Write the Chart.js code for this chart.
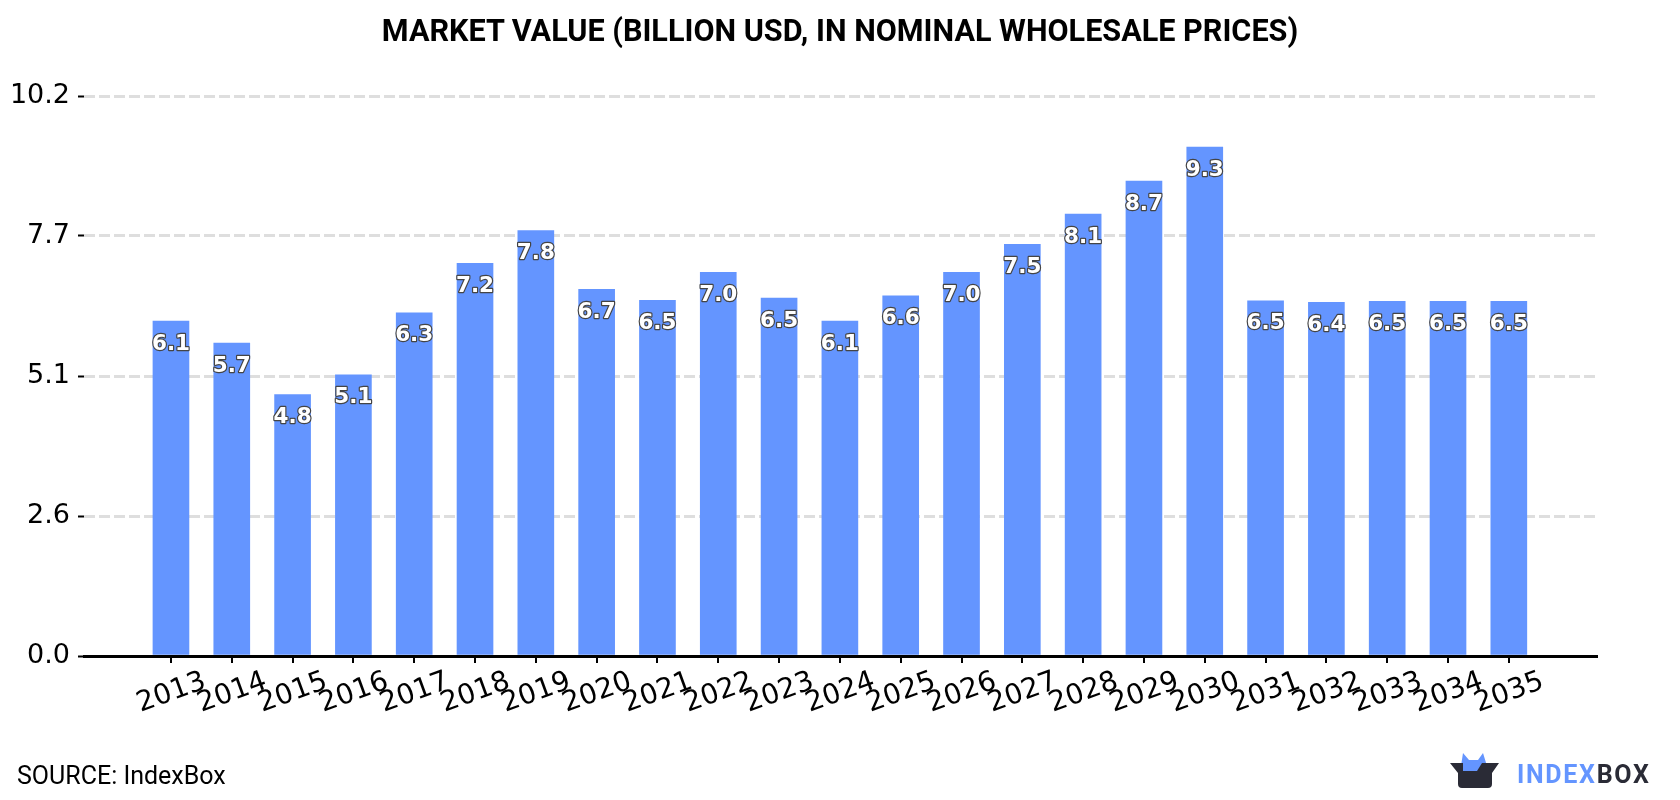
<!DOCTYPE html>
<html lang="en">
<head>
  <meta charset="UTF-8" />
  <title>Market Value</title>
  <script src="https://cdn.jsdelivr.net/npm/chart.js"></script>
  <style>
    html, body { margin: 0; padding: 0; background: #fff; }
    #wrap { position: relative; width: 1680px; height: 800px; overflow: hidden; }
    canvas { display: block; }
    #title { position: absolute; left: 0; top: 13px; width: 1680px; text-align: center; font: 700 30.6px Roboto, sans-serif; line-height: 36px; color: #000; }
    #source { position: absolute; left: 17px; top: 762px; font: 25px Roboto, sans-serif; color: #000; line-height: 28px; }
    #brand { position: absolute; left: 1517px; top: 761px; font: 700 25px Roboto, sans-serif; line-height: 28px; letter-spacing: 1.7px; color: #2a2b36; }
    #brand span { color: #6495ff; }
    #logo { position: absolute; left: 1450px; top: 752px; }
  </style>
</head>
<body>
  <div id="wrap">
    <canvas id="marketChart" width="1680" height="800"></canvas>
    <div id="title">MARKET VALUE (BILLION USD, IN NOMINAL WHOLESALE PRICES)</div>
    <div id="source">SOURCE: IndexBox</div>
    <svg id="logo" width="50" height="38" viewBox="0 0 50 38">
      <path d="M11 14 L13 1 L19 8 L28 8 L33 1 L37 14 L32 22 L14 22 Z" fill="#6495ff"/>
      <path d="M0 11 L13 11 L13 19 L27 19 L32 11 L49 11 L42 21 L42 32 Q42 36 38 36 L12 36 Q8 36 8 32 L8 21 Z" fill="#2a2b36"/>
    </svg>
    <div id="brand"><span>INDEX</span>BOX</div>
  </div>

  <script>
    const years = [2013, 2014, 2015, 2016, 2017, 2018, 2019, 2020, 2021, 2022, 2023, 2024,
                   2025, 2026, 2027, 2028, 2029, 2030, 2031, 2032, 2033, 2034, 2035];

    // Market value, billion USD
    const marketValue = [6.10, 5.70, 4.76, 5.12, 6.25, 7.15, 7.75, 6.68, 6.48, 6.99, 6.52, 6.10,
                         6.56, 6.99, 7.50, 8.05, 8.65, 9.27, 6.47, 6.44, 6.46, 6.46, 6.46];

    const yTicks = [0, 2.55, 5.1, 7.65, 10.2];
    const yTickLabels = ["0.0", "2.6", "5.1", "7.7", "10.2"];

    const blue = "#6495ff";

    // White outlined value label just inside the top of each bar
    const barLabels = {
      id: "barLabels",
      afterDatasetsDraw(chart) {
        const ctx = chart.ctx;
        ctx.save();
        ctx.font = "bold 21.5px 'DejaVu Sans'";
        ctx.textAlign = "center";
        ctx.textBaseline = "middle";
        ctx.lineJoin = "round";
        chart.getDatasetMeta(0).data.forEach((bar, i) => {
          const text = marketValue[i].toFixed(1);
          ctx.lineWidth = 2.4;
          ctx.strokeStyle = "#444";
          ctx.strokeText(text, bar.x, bar.y + 23);
          ctx.fillStyle = "#fff";
          ctx.fillText(text, bar.x, bar.y + 23);
        });
        ctx.restore();
      }
    };

    new Chart(document.getElementById("marketChart"), {
      type: "bar",
      data: {
        datasets: [{
          data: years.map((y, i) => ({ x: y, y: marketValue[i] })),
          backgroundColor: blue,
          barThickness: 36
        }]
      },
      plugins: [barLabels],
      options: {
        responsive: false,
        animation: false,
        layout: { padding: { top: 96, right: 83 } },
        plugins: {
          legend: { display: false },
          tooltip: { enabled: false }
        },
        scales: {
          x: {
            type: "linear",
            offset: false,
            min: 2011.57,
            max: 2036.45,
            afterBuildTicks(scale) { scale.ticks = years.map(v => ({ value: v })); },
            afterFit(scale) { scale.height = 144; },
            border: { color: "#000", width: 3 },
            grid: { offset: false, drawOnChartArea: false, color: "#000", lineWidth: 2, tickLength: 7 },
            ticks: {
              color: "#000",
              font: { family: "DejaVu Sans", size: 28 },
              minRotation: 20,
              maxRotation: 20,
              autoSkip: false,
              labelOffset: 34,
              padding: 2,
              callback: (value) => String(value)
            }
          },
          y: {
            min: 0,
            max: 10.2,
            afterBuildTicks(scale) { scale.ticks = yTicks.map(v => ({ value: v })); },
            afterFit(scale) { scale.width = 84; },
            border: { display: false, dash: [11, 4] },
            grid: {
              color: "#dedede",
              lineWidth: 3,
              tickColor: "#000",
              tickWidth: 2,
              tickLength: 6,
              tickBorderDash: []
            },
            ticks: {
              color: "#000",
              font: { family: "DejaVu Sans", size: 27 },
              padding: 8,
              callback: (value, i) => yTickLabels[i]
            }
          }
        }
      }
    });
  </script>
</body>
</html>
